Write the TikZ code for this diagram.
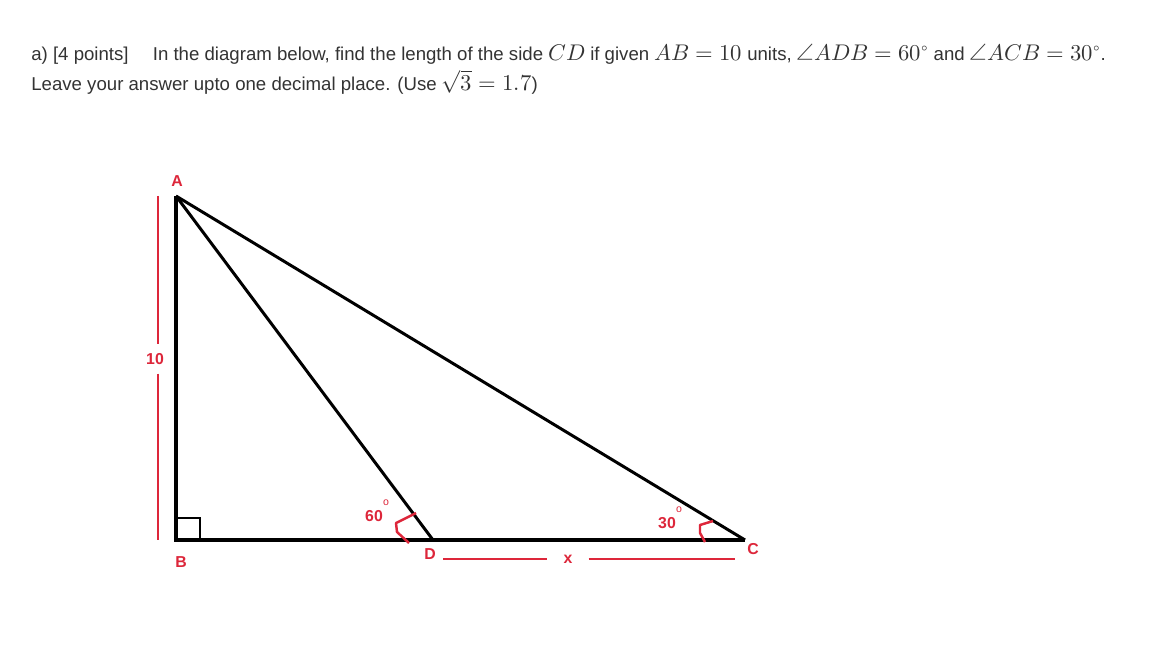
\documentclass[tikz,border=0pt]{standalone}
\usepackage{fontspec}
\setmainfont{Liberation Sans}
\usepackage{amsmath}
\usepackage{unicode-math}
\setmathfont{Latin Modern Math}
\definecolor{labelred}{RGB}{221,38,58}
\definecolor{textgray}{RGB}{51,51,51}
\newcommand{\qmath}[1]{{\fontsize{12.9}{14}\selectfont$#1$}}
\tikzset{
  ptlabel/.style={text=labelred,font=\fontsize{9}{10}\selectfont\bfseries,inner sep=1pt},
  question/.style={anchor=base west,text=textgray,font=\fontsize{10.6}{12}\selectfont,inner sep=0},
  side/.style={line width=2.3pt,black},
  cevian/.style={line width=1.7pt,black},
  redmark/.style={labelred,line width=1.4pt,line join=round},
  measure/.style={labelred,line width=0.6pt}
}
\begin{document}
\begin{tikzpicture}[x=0.02cm,y=-0.02cm]
\useasboundingbox[fill=white] (0,0) rectangle (1175,661);
% question text
\node[question] (q1) at (31,60.5)
  {a) [4 points]\hspace{1.3em}In the diagram below, find the length of the side \qmath{CD} if given \qmath{AB=10} units, \qmath{\angle ADB=60^\circ} and \qmath{\angle ACB=30^\circ}.};
\node[question] (q2) at (31,90.5)
  {Leave your answer upto one decimal place. (Use \qmath{\smash{\sqrt{3}}=1.7})};

% the triangle
\coordinate (A) at (176,196);
\coordinate (B) at (176,540);
\coordinate (D) at (433,540);
\coordinate (C) at (745,540);
\draw[side] (A) -- (B) -- (C);
\draw[cevian] (A) -- (D);
\draw[cevian] (A) -- (C);
\draw[line width=1.6pt] (176,518) -- (200,518) -- (200,540);

% vertex labels
\node[ptlabel] (la) at (177,181) {A};
\node[ptlabel] (lb) at (181,562) {B};
\node[ptlabel] (ld) at (430,554) {D};
\node[ptlabel] (lc) at (753,549) {C};

% angle marks
\draw[redmark] (409,543) -- (397,532) -- (396,523) -- (416,513);
\draw[redmark] (705,542) -- (700,533) -- (700,525) -- (713,521);
\node[ptlabel] (a60) at (374,516) {60};
\node[text=labelred,font=\fontsize{6}{6}\selectfont,inner sep=0] (d60) at (386,503) {o};
\node[ptlabel] (a30) at (667,523) {30};
\node[text=labelred,font=\fontsize{6}{6}\selectfont,inner sep=0] (d30) at (679,510) {o};

% measurements
\node[ptlabel] (ten) at (155,359) {10};
\coordinate (tt) at (158,196);
\coordinate (tb) at (158,540);
\draw[measure] (tt) -- ([yshift=4pt]tt |- ten.north);
\draw[measure] ([yshift=-4pt]tb |- ten.south) -- (tb);
\node[ptlabel] (xl) at (568,559) {x};
\coordinate (xd) at (443,559);
\coordinate (xc) at (735,559);
\draw[measure] (xd) -- ([xshift=-8pt]xl.west);
\draw[measure] ([xshift=8pt]xl.east) -- (xc);
\end{tikzpicture}
\end{document}
